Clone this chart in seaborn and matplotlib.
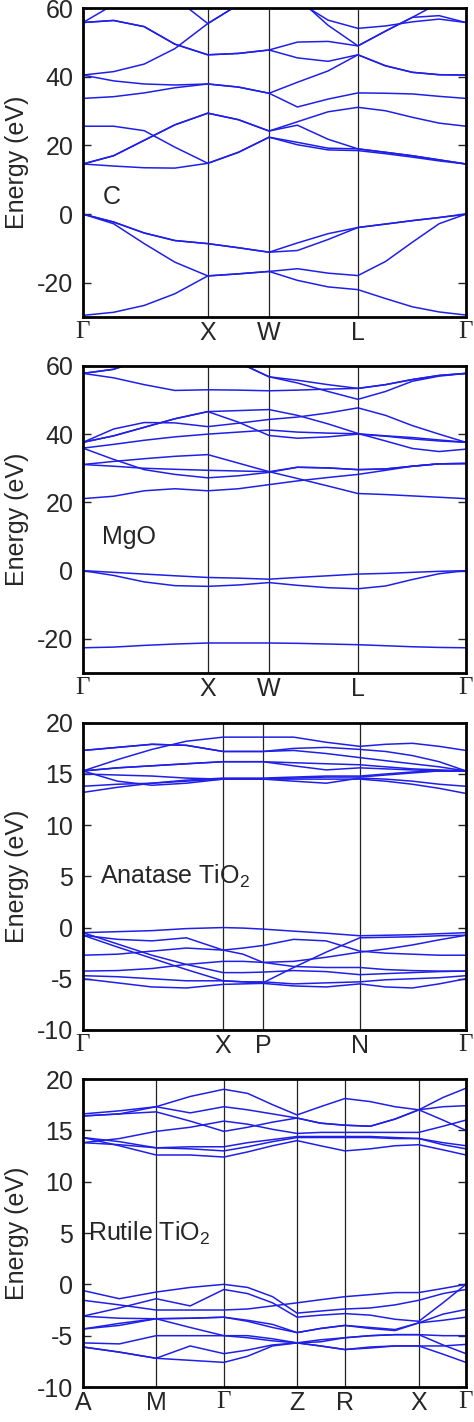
import numpy as np
import pandas as pd
import matplotlib
matplotlib.use("Agg")
import matplotlib.pyplot as plt
import seaborn as sns

sns.set_style("white")
plt.rcParams['font.family'] = ['Liberation Sans', 'DejaVu Sans']
plt.rcParams['mathtext.fontset'] = 'custom'
plt.rcParams['mathtext.rm'] = 'Liberation Sans'
plt.rcParams['axes.unicode_minus'] = False

BAND_COLOR = '#1f1fe8'
FS = 18

# ---------------- diamond (C) ----------------
C_K = [0, .08, .16, .24, .326, .406, .486, .56, .64, .718, .79, .86, .93, 1.0]
C_SYM = [0, .326, .486, .718, 1.0]
C_LABELS = ['Γ', 'X', 'W', 'L', 'Γ']
C_BANDS = [
    [-29.5, -28.6, -26.6, -23.2, -18.0, -17.4, -16.7, -19.3, -21.2, -22.0, -24.6, -27.0, -28.5, -29.4],
    [0.0, -2.8, -8.6, -14.0, -18.0, -17.4, -16.7, -15.9, -17.2, -17.9, -13.8, -8.2, -2.8, 0.0],
    [0.0, -2.3, -5.5, -7.7, -8.6, -9.8, -11.1, -10.6, -7.4, -3.9, -2.9, -1.9, -1.0, 0.0],
    [0.0, -2.3, -5.5, -7.7, -8.6, -9.8, -11.1, -8.4, -5.7, -3.9, -2.9, -1.9, -1.0, 0.0],
    [14.6, 14.0, 13.5, 13.4, 14.8, 18.0, 22.4, 20.9, 19.2, 19.0, 18.0, 17.0, 15.8, 14.6],
    [25.6, 25.6, 24.3, 19.5, 14.8, 18.0, 22.4, 20.2, 18.7, 18.5, 17.6, 16.6, 15.5, 14.6],
    [14.6, 17.0, 21.5, 26.0, 29.4, 27.5, 24.2, 26.9, 29.8, 31.1, 30.1, 28.2, 26.5, 25.6],
    [14.6, 17.0, 21.5, 26.0, 29.4, 27.5, 24.2, 25.9, 21.8, 19.0, 18.0, 17.0, 15.8, 14.6],
    [33.7, 34.2, 35.3, 36.8, 37.9, 37.0, 35.2, 31.2, 33.5, 35.3, 35.2, 35.0, 34.3, 33.7],
    [40.5, 38.8, 37.9, 37.6, 37.9, 37.0, 35.2, 38.4, 41.7, 46.4, 43.2, 41.3, 40.6, 40.5],
    [55.8, 56.4, 54.6, 49.5, 46.4, 46.8, 47.8, 45.5, 44.5, 46.4, 43.2, 41.3, 40.6, 40.5],
    [55.8, 56.4, 54.6, 49.5, 46.4, 46.8, 47.8, 50.1, 50.3, 49.0, 53.3, 57.3, 61.5, 64.0],
    [70, 70, 70, 70, 70, 68, 65, 62, 56.5, 54.1, 54.8, 56.0, 56.8, 55.8],
    [70, 70, 70, 70, 70, 70, 68, 63, 55.0, 49.0, 53.3, 57.3, 57.8, 55.8],
    [55.8, 61.0, 66.0, 70, 70, 70, 70, 70, 70, 70, 70, 70, 70, 70],
    [40.5, 41.5, 43.7, 48.2, 55.5, 61.0, 66.0, 70, 70, 70, 70, 70, 70, 70],
    [70, 70, 70, 63.0, 55.5, 61.0, 66.0, 70, 70, 70, 70, 70, 70, 70],
]

# ---------------- MgO ----------------
M_K = C_K
M_SYM = C_SYM
M_LABELS = C_LABELS
M_BANDS = [
    [-22.6, -22.4, -21.9, -21.5, -21.2, -21.2, -21.2, -21.3, -21.5, -21.7, -22.0, -22.3, -22.5, -22.6],
    [0.0, -0.5, -1.0, -1.5, -2.0, -2.2, -2.5, -2.0, -1.5, -1.0, -0.8, -0.5, -0.2, 0.0],
    [0.0, -1.4, -3.3, -4.4, -4.6, -4.2, -3.5, -4.3, -5.0, -5.3, -4.5, -2.6, -0.9, 0.0],
    [21.1, 21.8, 23.4, 24.0, 23.4, 24.0, 25.2, 26.3, 27.3, 28.2, 29.4, 30.6, 31.3, 31.4],
    [31.1, 30.6, 30.0, 29.7, 29.4, 29.2, 29.0, 27.0, 24.8, 22.6, 22.3, 21.9, 21.5, 21.1],
    [35.9, 32.6, 29.6, 28.2, 27.2, 27.8, 28.8, 30.3, 30.1, 29.6, 29.8, 30.6, 31.3, 31.4],
    [31.1, 32.0, 32.8, 33.5, 34.0, 31.5, 29.0, 30.3, 30.1, 29.6, 29.8, 30.6, 31.3, 31.4],
    [37.6, 39.5, 42.0, 44.5, 46.6, 46.9, 47.2, 45.5, 43.0, 40.2, 38.0, 35.8, 34.9, 35.6],
    [37.6, 41.5, 43.4, 43.3, 42.2, 43.2, 44.3, 45.0, 46.2, 47.7, 45.5, 42.5, 40.0, 37.6],
    [35.9, 37.0, 38.2, 39.2, 40.0, 40.6, 41.2, 40.6, 40.3, 40.1, 39.5, 39.0, 38.3, 37.6],
    [37.6, 39.5, 42.0, 44.5, 46.6, 43.5, 39.6, 38.8, 39.2, 40.0, 39.4, 38.6, 38.0, 37.6],
    [57.8, 56.5, 54.5, 52.8, 53.0, 52.9, 52.7, 52.9, 53.2, 53.4, 54.5, 56.0, 57.2, 57.8],
    [57.8, 59.0, 62.0, 66.0, 66.0, 61.0, 56.8, 55.0, 52.5, 50.2, 52.5, 55.5, 57.0, 57.8],
    [57.8, 59.0, 62.0, 66.0, 66.0, 61.0, 56.8, 55.8, 54.5, 53.4, 54.5, 56.0, 57.2, 57.8],
]

# ---------------- anatase TiO2 ----------------
A_K = [0, .09, .18, .27, .366, .418, .47, .55, .635, .723, .79, .86, .93, 1.0]
A_SYM = [0, .366, .47, .723, 1.0]
A_LABELS = ['Γ', 'X', 'P', 'N', 'Γ']
A_BANDS = [
    [17.3, 17.6, 17.9, 17.8, 17.2, 17.2, 17.2, 17.3, 17.0, 16.6, 16.3, 16.0, 15.7, 15.3],
    [15.3, 16.4, 17.4, 18.2, 18.6, 18.6, 18.6, 18.6, 18.1, 17.7, 17.9, 18.0, 17.7, 17.3],
    [15.3, 15.6, 15.8, 16.0, 16.2, 16.2, 16.2, 16.1, 16.0, 15.9, 15.7, 15.5, 15.4, 15.3],
    [15.0, 14.9, 14.8, 14.6, 14.5, 14.5, 14.5, 14.3, 14.1, 14.6, 14.5, 14.3, 14.0, 13.8],
    [15.3, 14.3, 13.9, 14.1, 14.5, 14.5, 14.5, 14.5, 14.5, 14.5, 14.3, 14.0, 13.6, 13.1],
    [13.2, 13.7, 14.1, 14.4, 14.6, 14.6, 14.6, 14.7, 14.8, 14.8, 15.0, 15.2, 15.3, 15.3],
    [13.8, 14.0, 14.1, 14.3, 14.5, 14.5, 14.5, 14.6, 14.7, 14.7, 14.9, 15.1, 15.3, 15.3],
    [17.3, 17.6, 17.9, 17.8, 17.2, 17.2, 17.2, 17.5, 17.6, 17.4, 17.2, 16.8, 16.2, 15.3],
    [15.3, 15.6, 15.8, 16.0, 16.2, 16.2, 16.2, 15.8, 15.4, 15.6, 15.5, 15.4, 15.3, 15.3],
    [-0.5, -0.4, -0.3, -0.1, 0.0, -0.05, -0.15, -0.35, -0.55, -0.8, -0.75, -0.7, -0.6, -0.5],
    [-0.75, -1.15, -1.3, -1.0, -2.2, -2.0, -1.75, -1.15, -1.3, -2.3, -2.5, -2.6, -2.7, -2.7],
    [-0.5, -1.6, -2.7, -3.6, -4.4, -4.4, -4.35, -4.2, -4.3, -4.6, -4.5, -4.4, -4.3, -4.25],
    [-0.75, -1.9, -3.0, -4.1, -5.2, -5.3, -5.4, -3.9, -2.4, -1.0, -0.95, -0.9, -0.8, -0.75],
    [-2.7, -2.6, -2.3, -2.0, -2.2, -2.6, -3.4, -3.3, -2.9, -2.4, -2.1, -1.7, -1.2, -0.75],
    [-4.25, -4.2, -4.0, -3.6, -3.3, -3.3, -3.4, -3.8, -3.9, -3.9, -4.1, -4.2, -4.25, -4.25],
    [-4.7, -4.8, -5.0, -5.2, -5.2, -5.3, -5.3, -5.5, -5.4, -5.3, -5.1, -5.0, -4.9, -4.7],
    [-5.0, -5.4, -5.8, -5.9, -5.55, -5.5, -5.45, -5.7, -5.8, -5.5, -5.8, -5.9, -5.5, -5.0],
]

# ---------------- rutile TiO2 ----------------
R_K = [0, .095, .191, .28, .368, .43, .495, .559, .62, .684, .75, .815, .877, .94, 1.0]
R_SYM = [0, .191, .368, .559, .684, .877, 1.0]
R_LABELS = ['A', 'M', 'Γ', 'Z', 'R', 'X', 'Γ']
R_BANDS = [
    [16.6, 16.9, 17.3, 18.3, 19.0, 18.6, 17.5, 16.5, 17.3, 18.1, 17.8, 17.3, 17.0, 18.2, 19.1],
    [16.4, 16.6, 17.3, 16.7, 17.3, 17.0, 16.6, 16.2, 15.7, 15.5, 15.4, 16.1, 17.0, 17.3, 17.4],
    [16.4, 16.6, 16.8, 15.9, 14.9, 15.3, 15.8, 16.2, 15.7, 15.5, 15.4, 16.1, 17.0, 16.0, 15.0],
    [13.8, 14.2, 14.9, 15.3, 15.9, 15.6, 15.1, 14.7, 14.8, 14.8, 14.8, 14.8, 14.8, 15.4, 16.0],
    [14.3, 13.9, 13.3, 13.4, 13.4, 13.8, 14.1, 14.4, 14.4, 14.4, 14.4, 14.3, 14.2, 13.6, 13.2],
    [14.3, 13.5, 12.6, 12.6, 12.4, 12.9, 13.5, 14.0, 13.5, 13.0, 13.2, 13.5, 13.6, 13.1, 12.6],
    [13.8, 13.6, 13.3, 13.2, 13.0, 13.4, 13.9, 14.3, 14.3, 14.3, 14.3, 14.2, 14.2, 13.8, 13.5],
    [-0.6, -1.4, -0.75, -0.3, 0.0, -0.3, -1.2, -2.8, -2.6, -2.4, -2.3, -2.0, -1.55, -0.9, -0.5],
    [-1.55, -2.0, -2.5, -2.5, -2.5, -2.4, -2.1, -1.8, -1.5, -1.2, -1.0, -0.8, -0.8, -0.4, 0.0],
    [-3.1, -2.3, -1.4, -2.1, -0.5, -0.9, -1.8, -3.2, -3.0, -2.85, -3.0, -3.4, -3.6, -1.8, 0.0],
    [-4.35, -3.8, -3.35, -3.3, -3.2, -3.6, -4.2, -4.7, -4.3, -4.0, -4.3, -4.5, -3.75, -2.9, -2.45],
    [-4.35, -4.0, -3.35, -3.3, -3.2, -3.5, -3.9, -4.7, -4.3, -4.0, -4.2, -4.4, -3.75, -3.5, -3.2],
    [-3.1, -3.3, -3.35, -4.2, -5.0, -5.2, -5.5, -5.7, -5.4, -5.2, -5.0, -4.9, -4.9, -5.0, -5.0],
    [-5.7, -5.8, -5.0, -5.0, -5.0, -5.0, -5.3, -5.7, -5.6, -5.2, -5.0, -4.9, -4.9, -5.9, -6.75],
    [-6.1, -6.6, -7.2, -6.0, -6.75, -6.4, -5.9, -5.7, -6.0, -6.35, -6.1, -6.0, -6.0, -6.0, -5.85],
    [-6.1, -6.6, -7.2, -7.4, -7.6, -7.0, -6.0, -5.7, -6.0, -6.35, -6.2, -6.0, -6.0, -6.8, -7.6],
]

PANELS = [
    (C_K, C_BANDS, C_SYM, C_LABELS, (-30, 60), [-20, 0, 20, 40, 60], 'C', (0.052, 5)),
    (M_K, M_BANDS, M_SYM, M_LABELS, (-30, 60), [-20, 0, 20, 40, 60], 'MgO', (0.05, 10)),
    (A_K, A_BANDS, A_SYM, A_LABELS, (-10, 20), [-10, -5, 0, 5, 10, 15, 20],
     'Anatase TiO$_2$', (0.044, 5)),
    (R_K, R_BANDS, R_SYM, R_LABELS, (-10, 20), [-10, -5, 0, 5, 10, 15, 20],
     'Rutile TiO$_2$', (0.013, 5)),
]

AX_RECTS = [
    [0.175, 0.777, 0.808, 0.2173],
    [0.175, 0.5267, 0.808, 0.216],
    [0.175, 0.2757, 0.808, 0.216],
    [0.175, 0.0246, 0.808, 0.2166],
]


def band_frame(kpts, bands):
    rows = []
    for b, energies in enumerate(bands):
        for k, e in zip(kpts, energies):
            rows.append((b, k, e))
    return pd.DataFrame(rows, columns=['band', 'k', 'energy'])


fig = plt.figure(figsize=(4.74, 14.22), dpi=100)

for rect, (kpts, bands, sym, labels, ylim, yticks, name, txy) in zip(AX_RECTS, PANELS):
    ax = fig.add_axes(rect)
    df = band_frame(kpts, bands)
    for s in sym[1:-1]:
        ax.axvline(s, color='#222222', lw=0.9, zorder=1)
    sns.lineplot(data=df, x='k', y='energy', units='band', estimator=None, sort=False,
                 color=BAND_COLOR, lw=1.1, ax=ax, legend=False, zorder=2)
    ax.set_xlim(0, 1)
    ax.set_ylim(*ylim)
    ax.set_yticks(yticks)
    ax.set_xticks(sym)
    ax.set_xticklabels(labels)
    for lbl in ax.get_xticklabels():
        if lbl.get_text() == 'Γ':
            lbl.set_fontfamily('Liberation Serif')
    ax.set_xlabel('')
    ax.set_ylabel('Energy (eV)', fontsize=FS, labelpad=6)
    ax.tick_params(axis='y', direction='in', length=6, width=1, left=True, right=True,
                   labelsize=FS, pad=7)
    ax.tick_params(axis='x', length=0, labelsize=FS, pad=3)
    for sp in ax.spines.values():
        sp.set_linewidth(2)
        sp.set_color('black')
    ax.text(txy[0], txy[1], name, fontsize=FS, ha='left', va='center')

fig.savefig('out.png', dpi=100)
